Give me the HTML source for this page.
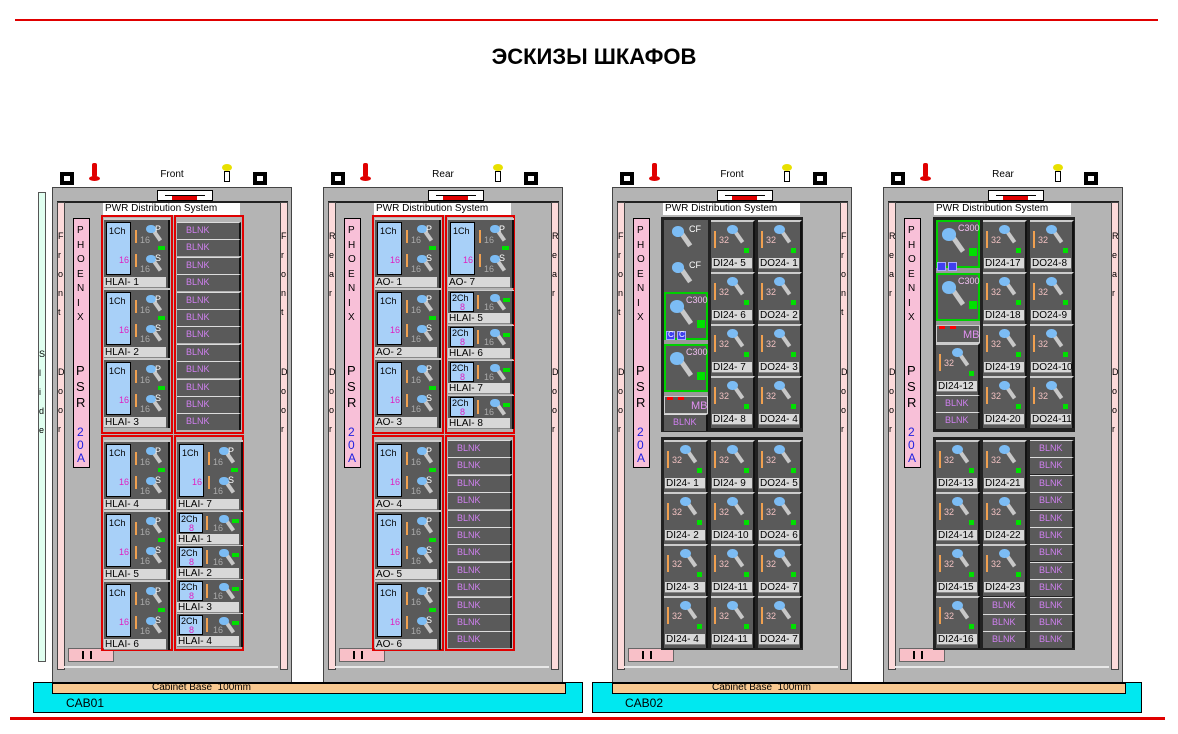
<!DOCTYPE html>
<html><head><meta charset="utf-8">
<style>
body{margin:0;width:1178px;height:734px;background:#fff;position:relative;overflow:hidden;font-family:"Liberation Sans",sans-serif}
.a{position:absolute;box-sizing:border-box}
.t{position:absolute;white-space:nowrap;line-height:1}
</style></head><body>
<div class="a" style="left:15px;top:19px;width:1143px;height:2px;background:#e00000"></div>
<div class="a" style="left:10px;top:717px;width:1155px;height:3px;background:#e00000"></div>
<div class="t" style="left:0;width:1188px;text-align:center;top:46px;font-size:22px;font-weight:bold">ЭСКИЗЫ ШКАФОВ</div>
<div id="root"></div>
<script>
var R=document.getElementById('root'),H='';
function b(x,y,w,h,s){H+='<div class="a" style="left:'+x+'px;top:'+y+'px;width:'+w+'px;height:'+h+'px;'+(s||'')+'"></div>';}
function t(x,y,s,txt){H+='<div class="t" style="left:'+x+'px;top:'+y+'px;'+s+'">'+txt+'</div>';}
function icon(x,y,sz){sz=sz||1;
 b(x+4*sz,y+4*sz,3*sz,11*sz,'background:#c8c8c8;transform:rotate(-35deg);transform-origin:top;');
 b(x,y,8*sz,7*sz,'background:#7cbcf4;border-radius:50%');}
function lbl(x,y,w,txt){b(x,y,w,11,'background:#d8d8d8;border-bottom:1px solid #888');t(x+1,y+1,'font-size:10px;color:#000',txt);}
function ch1(x,y,name){
 b(x,y,66,70,'background:#5a5a5a;border-right:2px solid #111');
 b(x,y,66,2,'background:#ccc');
 b(x+2,y+4,25,53,'background:#a8d0f8;border:1px solid #000');
 t(x+5,y+9,'font-size:9px','1Ch');t(x+15,y+38,'font-size:9px;color:#e020c0','16');
 b(x+31,y+12,2,13,'background:#f0a050');b(x+31,y+36,2,13,'background:#f0a050');
 icon(x+42,y+7,1.2);t(x+36,y+18,'font-size:9px;color:#aaa','16');t(x+51,y+7,'font-size:9px;color:#fff','P');
 b(x+54,y+28,7,4,'background:#00e000');
 icon(x+42,y+37,1.2);t(x+36,y+47,'font-size:9px;color:#aaa','16');t(x+51,y+36,'font-size:9px;color:#fff','S');
 lbl(x,y+59,62,name);}
function ch2(x,y,name){
 b(x,y,66,34,'background:#5a5a5a;border-right:2px solid #111');b(x,y,66,1,'background:#ccc');
 b(x+2,y+2,24,20,'background:#a8d0f8;border:1px solid #000');
 t(x+4,y+4,'font-size:9px','2Ch');t(x+12,y+13,'font-size:9px;color:#e020c0','8');
 b(x+29,y+5,2,14,'background:#f0a050');icon(x+42,y+4,1.2);t(x+36,y+13,'font-size:9px;color:#aaa','16');
 b(x+55,y+8,7,4,'background:#00e000');lbl(x,y+23,62,name);}
function blnk(x,y,w,h){b(x,y,w,h,'background:#5a5a5a;border-top:1px solid #ddd;border-right:2px solid #111');t(x+9,y+Math.round(h/2)-5,'font-size:9px;color:#d080f0','BLNK');}
function di(x,y,name){
 b(x,y,44,52,'background:#5a5a5a;border-top:2px solid #ccc;border-right:2px solid #111');
 b(x+3,y+11,2,17,'background:#f0a050');icon(x+16,y+5,1.35);t(x+8,y+16,'font-size:9px;color:#f0c0c0','32');
 b(x+33,y+28,5,5,'background:#00e000');lbl(x+1,y+38,40,name);}
function c300(x,y){b(x,y,44,48,'background:#5a5a5a;border:2px solid #00d000');icon(x+6,y+8,1.8);t(x+22,y+4,'font-size:9px;color:#f0c0f0','C300');b(x+33,y+28,8,8,'background:#00e000');}
function cf(x,y){b(x,y,44,36,'background:#5a5a5a');icon(x+8,y+6,1.5);t(x+25,y+5,'font-size:9px;color:#fff','CF');b(x,y+36,44,8,'background:#d0d0d0;border:1px solid #e8e000');}
function mb(x,y){b(x,y,44,18,'background:#5a5a5a;border:1px solid #ccc');b(x+3,y+1,6,3,'background:#f00');b(x+14,y+1,6,3,'background:#f00');t(x+27,y+5,'font-size:11px;color:#e090f0','MB');}
function cab(x0,side){
 b(x0+8,172,14,13,'background:#000');b(x0+12,176,6,5,'background:#fff');
 b(x0+201,172,14,13,'background:#000');b(x0+205,176,6,5,'background:#fff');
 b(x0+40,163,5,14,'background:#e00000;border-radius:2px');b(x0+37,176,11,5,'background:#e00000;border-radius:50%');
 b(x0+170,164,10,7,'background:#e8e000;border-radius:50%');b(x0+172,171,6,11,'background:#fff;border:1px solid #000');
 t(x0+100,170,'font-size:10px;width:40px;text-align:center',side);
 b(x0,187,240,496,'background:#b4b4b4;border:1px solid #444');
 b(x0+105,190,56,11,'background:#fff;border:1px solid #000');b(x0+113,195,40,1,'background:#000');b(x0+120,196,25,4,'background:#e00000');
 b(x0+5,201,231,2,'background:#222');
 b(x0+5,202,8,468,'background:#fcdada;border:1px solid #444');b(x0+228,202,8,468,'background:#fcdada;border:1px solid #444');
 var w=side=='Front'?'Front':'Rear',ys=[232,251,270,289,308];
 for(var i=0;i<w.length;i++){t(x0+6,ys[i],'font-size:9px',w[i]);t(x0+229,ys[i],'font-size:9px',w[i]);}
 var d='Door';for(i=0;i<4;i++){t(x0+6,368+i*19,'font-size:9px',d[i]);t(x0+229,368+i*19,'font-size:9px',d[i]);}
 b(x0+12,666,214,2,'background:#e8e8e8');
 b(x0+21,218,17,250,'background:#f8c0d8;border:1px solid #000');
 var p='PHOENIX';for(i=0;i<7;i++)t(x0+25,226+i*14.5,'font-size:10px',p[i]);
 var q='PSR';for(i=0;i<3;i++)t(x0+24,364+i*16,'font-size:13px',q[i]);
 var z='20A';for(i=0;i<3;i++)t(x0+25,426+i*13,'font-size:12px;color:#2020e0',z[i]);
 b(x0+51,203,137,12,'background:#fff');t(x0+53,204,'font-size:10px','PWR Distribution System');
 b(x0+16,648,46,14,'background:#f8c0c8;border:1px solid #666');b(x0+30,651,2,8,'background:#000');b(x0+38,651,2,8,'background:#000');
}
cab(52,'Front');cab(323,'Rear');cab(612,'Front');cab(883,'Rear');
b(38,192,8,470,'background:#e0fff0;border:1px solid #555');
var sl='Slide';for(var i=0;i<5;i++)t(39,350+i*19,'font-size:9px',sl[i]);
[[33,52,'CAB01'],[592,612,'CAB02']].forEach(function(c){
 b(c[0],682,550,31,'background:#00e8f0;border:1px solid #000');
 b(c[1],683,514,11,'background:#f8c890;border:1px solid #000');
 t(c[1]+100,683,'font-size:10px','Cabinet Base&nbsp; 100mm');
 t(c[0]+33,697,'font-size:12px',c[2]);});
function frames(x){
 b(x+49,215,72,219,'border:2px solid #e00000');b(x+122,215,70,219,'border:2px solid #e00000');
 b(x+49,435,72,216,'border:2px solid #e00000');b(x+122,435,70,216,'border:2px solid #e00000');}
frames(52);frames(323);
ch1(104,218,'HLAI- 1');ch1(104,288,'HLAI- 2');ch1(104,358,'HLAI- 3');
ch1(104,440,'HLAI- 4');ch1(104,510,'HLAI- 5');ch1(104,580,'HLAI- 6');
for(i=0;i<12;i++)blnk(177,222+i*17.4,64,17);
ch1(177,440,'HLAI- 7');ch2(177,511,'HLAI- 1');ch2(177,545,'HLAI- 2');ch2(177,579,'HLAI- 3');ch2(177,613,'HLAI- 4');
var o=271;
ch1(104+o,218,'AO- 1');ch1(104+o,288,'AO- 2');ch1(104+o,358,'AO- 3');
ch1(104+o,440,'AO- 4');ch1(104+o,510,'AO- 5');ch1(104+o,580,'AO- 6');
ch1(177+o,218,'AO- 7');ch2(177+o,290,'HLAI- 5');ch2(177+o,325,'HLAI- 6');ch2(177+o,360,'HLAI- 7');ch2(177+o,395,'HLAI- 8');
for(i=0;i<12;i++)blnk(177+o,440+i*17.4,64,17);
function colbg(x,y,h){b(x-2,y,48,h,'background:#222');}
[663,710,757].forEach(function(x){colbg(x,217,215);colbg(x,437,213);});
cf(664,220);cf(664,256);c300(664,292);b(664,340,44,12,'background:#999');
b(666,331,9,9,'background:#4040f0;border:1px solid #aaf');b(677,331,9,9,'background:#4040f0;border:1px solid #aaf');
t(668,331,'font-size:8px;color:#fff','C');t(679,331,'font-size:8px;color:#fff','C');
c300(664,344);b(664,392,44,4,'background:#999');mb(664,396);blnk(664,414,44,17);
for(i=0;i<4;i++){di(711,220+i*52,'DI24- '+(5+i));di(758,220+i*52,'DO24- '+(1+i));}
var l1=['DI24- 1','DI24- 2','DI24- 3','DI24- 4'],l2=['DI24- 9','DI24-10','DI24-11','DI24-11'],l3=['DO24- 5','DO24- 6','DO24- 7','DO24- 7'];
for(i=0;i<4;i++){di(664,440+i*52,l1[i]);di(711,440+i*52,l2[i]);di(758,440+i*52,l3[i]);}
[935,982,1029].forEach(function(x){colbg(x,217,215);colbg(x,437,213);});
c300(936,220);b(936,268,44,11,'background:#999');
b(937,262,9,9,'background:#4040f0;border:1px solid #aaf');b(948,262,9,9,'background:#4040f0;border:1px solid #aaf');
c300(936,273);b(936,321,44,5,'background:#999');mb(936,325);di(936,343,'DI24-12');blnk(936,395,44,17);blnk(936,412,44,17);
for(i=0;i<4;i++){di(983,220+i*52,'DI24-'+(17+i));di(1030,220+i*52,'DO24-'+(8+i));}
for(i=0;i<4;i++)di(936,440+i*52,'DI24-'+(13+i));
for(i=0;i<3;i++)di(983,440+i*52,'DI24-'+(21+i));
for(i=0;i<3;i++)blnk(983,597+i*17,44,17);
for(i=0;i<12;i++)blnk(1030,440+i*17.4,44,17);
R.innerHTML=H;
</script>
</body></html>
